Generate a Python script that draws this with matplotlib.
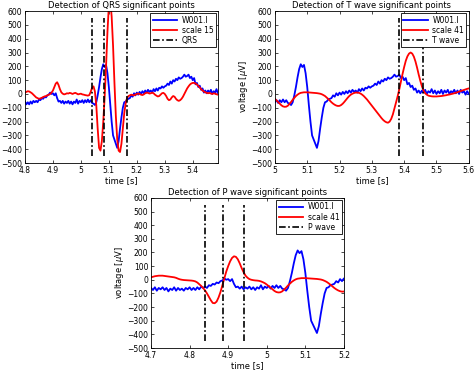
import numpy as np
import matplotlib
matplotlib.use("Agg")
import matplotlib.pyplot as plt
from matplotlib.ticker import FormatStrFormatter

# W001.I lead, sampled every 5 ms from 4.7 s
t0_ecg = 4.7
ecg = [
    -60, -75, -55, -80, -60, -70, -55, -75, -60, -85,
    -65, -75, -55, -80, -60, -75, -65, -80, -60, -70,
    -55, -75, -60, -75, -55, -70, -50, -60, -50, -60,
    -40, -45, -30, -35, -20, -25, -10, -5, 10, 0,
    5, -10, 5, -30, -55, -50, -65, -50, -70, -55,
    -65, -50, -70, -55, -75, -55, -65, -40, -70, -50,
    -60, -45, -65, -45, -60, -40, -60, -45, -65, -70,
    -80, -60, -10, 50, 120, 180, 215, 195, 210, 150,
    50, -80, -200, -300, -330, -360, -390, -340, -250, -170,
    -100, -60, -55, -40, -35, -30, -10, -20, 5, -10,
    10, -5, 15, 0, 20, 5, 25, 10, 30, 15,
    25, 10, 35, 20, 40, 25, 45, 40, 55, 45,
    55, 60, 75, 65, 90, 75, 100, 90, 110, 100,
    120, 110, 115, 125, 140, 125, 130, 140, 115, 125,
    100, 115, 70, 80, 50, 60, 30, 40, 10, 25,
    5, 25, 10, 30, 0, 20, 10, 35, 5, 25,
    0, 20, 5, 30, 0, 25, 10, 30, 0, 20,
    10, 30, 5, 25, 0, 30, 10, 20, -5, 20,
    0,
]

# wavelet coefficients, scale 15 (from 4.8 s)
t0_s15 = 4.8
scale15 = [
    10, 15, 20, 18, 12, 5, -5, -15, -25, -30,
    -35, -32, -28, -22, -18, -15, -10, -5, 0, 10,
    25, 50, 75, 85, 65, 35, 12, 2, -3, 0,
    5, 3, 8, 5, 0, 5, 8, 3, -3, 0,
    2, -3, -5, -8, -10, -12, -8, 15, 45, 55,
    20, -80, -250, -390, -410, -340, -200, -20, 200, 450,
    640, 680, 560, 350, 80, -160, -330, -410, -420, -360,
    -250, -140, -70, -30, -15, -10, -5, -8, -10, -5,
    0, 3, 0, -5, -8, -3, 5, 10, 8, 3,
    5, 10, 5, -5, -12, -18, -15, -5, 5, 8,
    0, -15, -35, -45, -40, -25, -15, -20, -35, -45,
    -50, -45, -35, -20, 0, 20, 40, 55, 68, 76,
    80, 80, 76, 68, 58, 46, 35, 25, 18, 12,
    8, 5, 8, 3, 0, 5, 2, -2, -5,
]

# wavelet coefficients, scale 41 (from 4.7 s)
t0_s41 = 4.7
scale41 = [
    18, 22, 26, 28, 30, 30, 30, 28, 26, 24,
    22, 20, 18, 14, 8, 3, 0, -2, -3, -4,
    -5, -6, -8, -12, -20, -32, -45, -60, -78, -100,
    -125, -150, -170, -172, -160, -130, -90, -40, 10, 60,
    100, 135, 160, 172, 168, 150, 120, 85, 55, 30,
    15, 5, 0, -3, -5, -6, -8, -12, -18, -25,
    -35, -47, -60, -72, -82, -90, -93, -92, -85, -72,
    -58, -42, -28, -15, -5, 3, 8, 10, 12, 12,
    12, 11, 10, 9, 8, 7, 6, 4, 2, -2,
    -8, -15, -25, -36, -48, -60, -70, -78, -84, -87,
    -86, -80, -70, -57, -42, -28, -15, -5, 2, 7,
    10, 10, 8, 3, -5, -15, -27, -40, -55, -70,
    -85, -100, -115, -130, -145, -160, -175, -188, -198, -205,
    -208, -200, -180, -148, -105, -60, -15, 35, 90, 145,
    195, 240, 272, 292, 300, 292, 270, 235, 190, 140,
    95, 55, 25, 5, -5, -12, -15, -17, -18, -18,
    -18, -17, -16, -15, -13, -11, -9, -6, -4, -1,
    2, 5, 9, 13, 17, 21, 25, 29, 33, 37,
    40,
]

qrs_marks = [5.040, 5.083, 5.166]
t_marks = [5.385, 5.457]
p_marks = [4.840, 4.887, 4.941]

dt = 0.005
t_ecg = t0_ecg + dt * np.arange(len(ecg))
t_s15 = t0_s15 + dt * np.arange(len(scale15))
t_s41 = t0_s41 + dt * np.arange(len(scale41))

plt.rcParams['font.family'] = 'DejaVu Sans'
fs = 5.5

fig = plt.figure(figsize=(4.74, 3.81), dpi=100)
ax1 = fig.add_axes([0.0527, 0.572, 0.407, 0.399])
ax2 = fig.add_axes([0.580, 0.572, 0.409, 0.399])
ax3 = fig.add_axes([0.3186, 0.0866, 0.407, 0.394])

panels = [
    (ax1, t_s15, scale15, "scale 15", qrs_marks, "QRS",
     "Detection of QRS significant points", (4.8, 5.49), np.arange(4.8, 5.45, 0.1)),
    (ax2, t_s41, scale41, "scale 41", t_marks, "T wave",
     "Detection of T wave significant points", (5.0, 5.6), np.arange(5.0, 5.65, 0.1)),
    (ax3, t_s41, scale41, "scale 41", p_marks, "P wave",
     "Detection of P wave significant points", (4.7, 5.2), np.arange(4.7, 5.25, 0.1)),
]

for ax, tw, w, wlabel, marks, mlabel, title, xl, xt in panels:
    ax.plot(t_ecg, ecg, color=(0, 0, 1), lw=1.3, label="W001.I")
    ax.plot(tw, w, color=(1, 0, 0), lw=1.3, label=wlabel)
    ax.vlines(marks, -450, 550, colors='k', linestyles=(0, (4, 1.5, 1, 1.5)),
              lw=1.2, label=mlabel)
    ax.set_xlim(*xl)
    ax.set_ylim(-500, 600)
    ax.set_xticks(xt)
    ax.set_yticks(np.arange(-500, 601, 100))
    ax.xaxis.set_major_formatter(FormatStrFormatter('%g'))
    ax.tick_params(direction='in', top=True, right=True, labelsize=fs,
                   length=2, width=0.5, pad=2)
    for s in ax.spines.values():
        s.set_linewidth(0.6)
    ax.set_title(title, fontsize=6, pad=2)
    ax.set_xlabel("time [s]", fontsize=fs + 0.5, labelpad=1)
    ax.set_ylabel(r"voltage [$\mu$V]", fontsize=fs + 0.5, labelpad=1)
    leg = ax.legend(loc='upper right', fontsize=fs, handlelength=3.2,
                    borderaxespad=0.3, fancybox=False, framealpha=1,
                    labelspacing=0.15, borderpad=0.3, handletextpad=0.6)
    leg.get_frame().set_edgecolor('k')
    leg.get_frame().set_linewidth(0.6)

fig.savefig("out.png", dpi=100)
